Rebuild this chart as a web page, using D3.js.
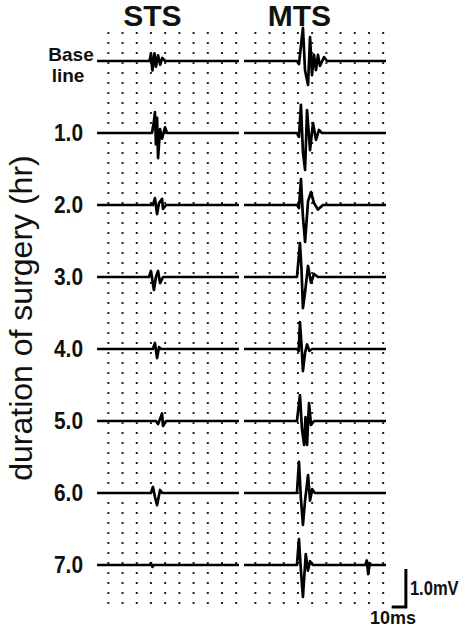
<!DOCTYPE html>
<html>
<head>
<meta charset="utf-8">
<script src="https://cdn.jsdelivr.net/npm/d3@7"></script>
<style>
  body { margin: 0; background: #fff; }
  text { font-family: "Liberation Sans", Arial, sans-serif; fill: #111; }
</style>
</head>
<body>
<svg id="chart" width="474" height="631"></svg>
<script>
// rows: hours of surgery, 0 = baseline
const rowHours = [0, 1, 2, 3, 4, 5, 6, 7];
const rowLabels = ['Base line', '1.0', '2.0', '3.0', '4.0', '5.0', '6.0', '7.0'];
const panels = ['STS', 'MTS'];

// sweep window and the dotted time grid, ms
const sweepMs = [-8, 92];
const gridMs = [0, 10, 20, 30, 40, 50, 60, 70, 80, 90];

// response complexes as [ms, mV], one array per row; the rest of the sweep is flat
const stsWaves = [
  [[29, 0], [30, 0.2], [31, -0.25], [32.5, 0.2], [33.5, -0.15], [35, 0.15], [36.5, -0.1], [38, 0.08], [40, 0]],
  [[30.7, 0], [32.1, 0.3], [32.8, 0.55], [33.5, -0.3], [34.3, 0.4], [35, -0.66], [36.4, 0.1], [37.8, -0.15], [39.9, 0.15], [41.3, 0]],
  [[31.4, 0], [32.8, 0.18], [34.3, -0.24], [35.7, 0.05], [37.8, 0.16], [38.5, -0.1], [40.6, 0]],
  [[28.6, 0], [30, 0.16], [32.1, -0.34], [33.5, 0], [35, 0.16], [36.4, -0.16], [38.5, 0]],
  [[31.4, 0], [32.8, 0.16], [34.3, -0.24], [35.7, 0.05], [37, 0]],
  [[33.5, 0], [35, -0.08], [36.4, 0.05], [37.8, 0.2], [38.5, -0.13], [40.6, 0]],
  [[30, 0], [31.4, 0.16], [32.8, -0.1], [34.3, -0.32], [36.4, 0.08], [38, 0]],
  [[29, 0], [30, 0.05], [31, -0.05], [32, 0]]
];
const mtsWaves = [
  [[29.3, 0], [30.7, -0.08], [33.5, 0.87], [35, -0.25], [37.1, -0.63], [38.5, 0.63], [39.9, -0.37], [41.3, 0.16], [42.7, -0.24], [44.1, 0.16], [45.5, -0.13], [48.3, 0.1], [50.5, 0]],
  [[29.3, 0], [30.7, -0.1], [32.1, 0.74], [33.5, -0.5], [35, -0.97], [36.4, 0.6], [38.5, -0.45], [40.6, 0.26], [42.7, -0.18], [44.8, 0.08], [46.9, 0]],
  [[29.3, 0], [30.7, -0.08], [32.1, 0.68], [33.5, -0.3], [35, -0.97], [37.1, 0.1], [39.2, 0.34], [41.3, 0.05], [44.1, -0.12], [47.6, 0]],
  [[29.3, 0], [31.4, 0.89], [32.5, 0.2], [33.5, -0.82], [35, -0.4], [37.1, 0.29], [39.2, -0.15], [41.3, 0.08], [44.1, 0]],
  [[29.3, 0], [30.5, -0.05], [31.4, 0.71], [32.5, 0.1], [33.5, -0.58], [35, -0.1], [36.4, 0.12], [38, -0.05], [40, 0]],
  [[29.3, 0], [31.4, 0.68], [32.8, -0.2], [34.3, -0.63], [35.3, 0.1], [36.4, -0.63], [37.8, 0.47], [39.2, -0.1], [41.3, 0]],
  [[29.3, 0], [30.7, 0.82], [32, -0.1], [33.5, -0.84], [35, -0.2], [37.1, 0.47], [38.5, -0.2], [40, 0.1], [42, 0]],
  [[29.3, 0], [30.7, 0.68], [32, -0.1], [33.5, -0.84], [35.5, 0.29], [37, -0.15], [38.5, 0.1], [40.5, 0], [77.5, 0], [78.5, 0.12], [79.5, -0.24], [80.5, 0.05], [81.5, 0]]
];

// calibration bar
const barMs = 10;
const barMv = 1.0;

const svg = d3.select('#chart');
const panelLeft = { STS: 97, MTS: 244 };
const panelWidth = 142;
const pxPerMv = 38;

const xScales = {};
panels.forEach((p) => {
  xScales[p] = d3.scaleLinear()
    .domain(sweepMs)
    .range([panelLeft[p], panelLeft[p] + panelWidth]);
});

const rowY = d3.scaleLinear()
  .domain([0, 7])
  .range([61, 565]);

const mv = d3.scaleLinear()
  .domain([-1, 1])
  .range([pxPerMv, -pxPerMv]);

// dotted grid
panels.forEach((p) => {
  svg.append('g')
    .selectAll('line')
    .data(gridMs)
    .enter()
      .append('line')
      .attr('x1', d => xScales[p](d))
      .attr('x2', d => xScales[p](d))
      .attr('y1', 32)
      .attr('y2', 606)
      .attr('stroke', '#222')
      .attr('stroke-width', 2)
      .attr('stroke-dasharray', '2 8');
});

// panel titles
panels.forEach((p) => {
  svg.append('text')
    .attr('x', xScales[p](31))
    .attr('y', 26)
    .attr('text-anchor', 'middle')
    .style('font-size', '30px')
    .style('font-weight', 'bold')
    .text(p);
});

// traces
const waves = { STS: stsWaves, MTS: mtsWaves };
panels.forEach((p) => {
  const x = xScales[p];
  rowHours.forEach((h, i) => {
    const pts = [[sweepMs[0], 0]].concat(waves[p][i], [[sweepMs[1], 0]]);
    const line = d3.line()
      .x(d => x(d[0]))
      .y(d => rowY(h) + mv(d[1]));
    svg.append('path')
      .attr('d', line(pts))
      .attr('fill', 'none')
      .attr('stroke', '#000')
      .attr('stroke-width', 2.7)
      .attr('stroke-linejoin', 'round');
  });
});

// row labels
rowHours.forEach((h, i) => {
  const y = rowY(h);
  if (i === 0) {
    const parts = rowLabels[0].split(' ');
    svg.append('text')
      .attr('x', 71).attr('y', y)
      .attr('text-anchor', 'middle')
      .style('font-size', '19px').style('font-weight', 'bold')
      .text(parts[0]);
    svg.append('text')
      .attr('x', 68).attr('y', y + 21)
      .attr('text-anchor', 'middle')
      .style('font-size', '19px').style('font-weight', 'bold')
      .text(parts[1]);
  } else {
    svg.append('text')
      .attr('transform', `translate(83,${y + 8}) scale(0.87,1)`)
      .attr('text-anchor', 'end')
      .style('font-size', '24px').style('font-weight', 'bold')
      .text(rowLabels[i]);
  }
});

// axis title
svg.append('text')
  .attr('transform', 'translate(32,318) rotate(-90)')
  .attr('text-anchor', 'middle')
  .style('font-size', '32px')
  .text('duration of surgery (hr)');

// calibration bar
const xm = xScales.MTS;
const barX = xm(106);
const barBottom = 607;
svg.append('path')
  .attr('d', `M${barX},${barBottom + mv(barMv)}V${barBottom}H${xm(106 - barMs)}`)
  .attr('fill', 'none')
  .attr('stroke', '#000')
  .attr('stroke-width', 3);

svg.append('text')
  .attr('transform', `translate(${barX + 4},${barBottom + mv(barMv / 2) + 7}) scale(0.92,1.1)`)
  .style('font-size', '18px').style('font-weight', 'bold')
  .text(`${barMv.toFixed(1)}mV`);

svg.append('text')
  .attr('x', 393).attr('y', 624)
  .attr('text-anchor', 'middle')
  .style('font-size', '18px').style('font-weight', 'bold')
  .text(`${barMs}ms`);
</script>
</body>
</html>
